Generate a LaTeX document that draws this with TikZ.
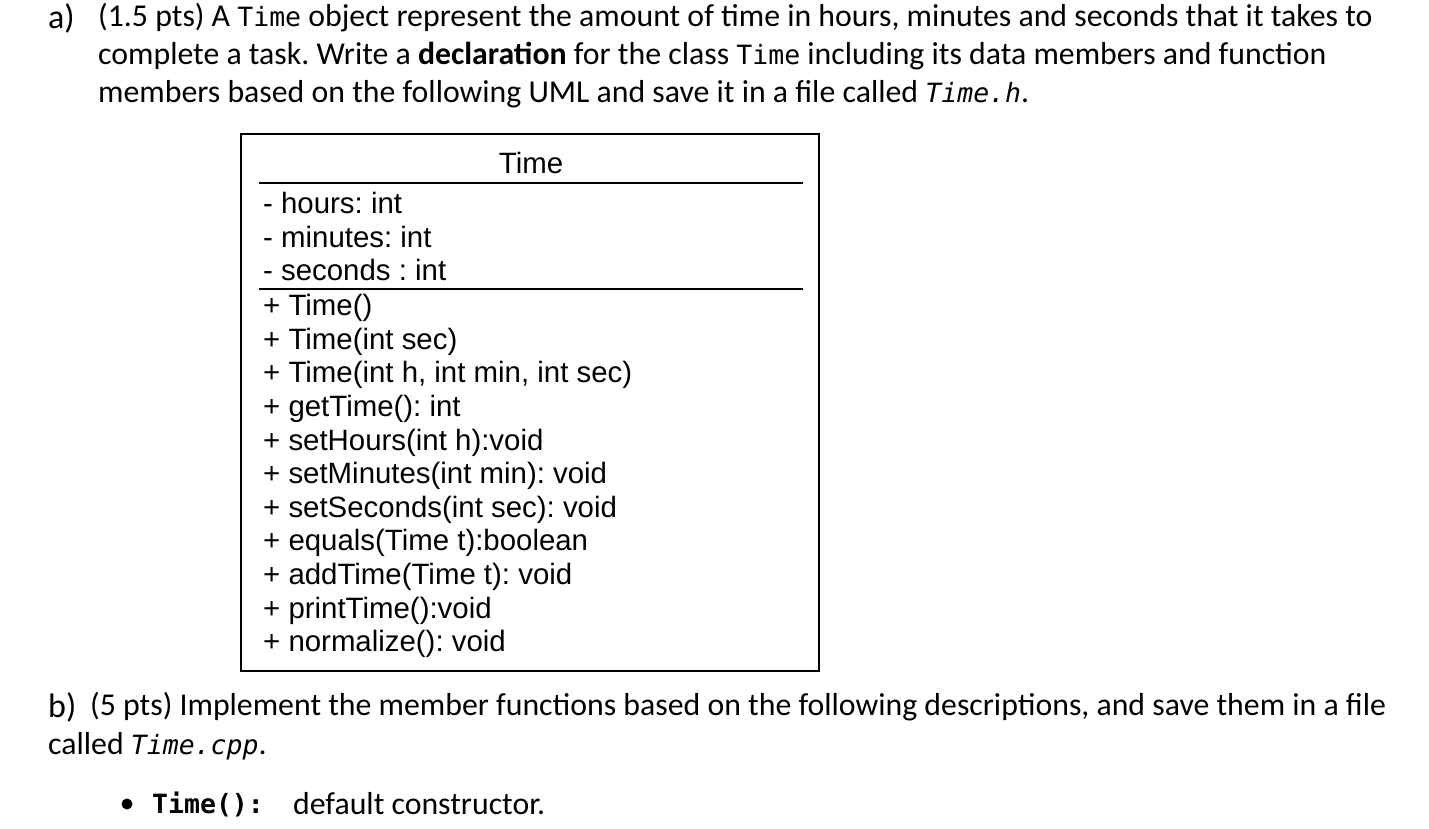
\documentclass[tikz,border=0pt]{standalone}
\usepackage{fontspec}
\setmainfont{Carlito}
\newfontfamily\umlfont{Liberation Sans}
\newfontfamily\codefont{DejaVu Sans Mono}
\frenchspacing
\begin{document}
\begin{tikzpicture}[x=1pt,y=-1pt,
  txt/.style={anchor=west,inner sep=0pt,font=\fontsize{31.8}{36}\selectfont},
  lbl/.style={anchor=west,inner sep=0pt,font=\fontsize{34}{38}\selectfont},
  uml/.style={anchor=west,inner sep=0pt,font=\umlfont\fontsize{29.4}{34}\selectfont},
  sep/.style={line width=2pt}]
\useasboundingbox (0,0) rectangle (1429,828);
\newcommand\cd[1]{{\codefont\fontsize{26.5}{30}\selectfont #1}}
\newcommand\cdi[1]{{\codefont\itshape\fontsize{26.5}{30}\selectfont #1}}
\node[lbl] (a) at (48,18) {a)};
\node[txt] (l1) at (98,18) {(1.5 pts) A \cd{Time} object represent the amount of time in hours, minutes and seconds that it takes to};
\node[txt] (l2) at (98,56) {complete a task. Write a \textbf{declaration} for the class \cd{Time} including its data members and function};
\node[txt] (l3) at (98,94) {members based on the following UML and save it in a file called \cdi{Time.h}.};
\draw[line width=2pt] (241,134) rectangle (819,671);
\node[uml,anchor=center] (title) at (531,163) {Time};
\draw[sep] (259,183) -- (803,183);
\draw[sep] (259,289) -- (803,289);
\foreach \t [count=\i] in {- hours: int,- minutes: int,- seconds : int}
  \node[uml] (at\i) at (263,{203+33.6*(\i-1)}) {\t};
\foreach \t [count=\i] in {+ Time(),+ Time(int sec),{+ Time(int h, int min, int sec)},+ getTime(): int,+ setHours(int h):void,+ setMinutes(int min): void,+ setSeconds(int sec): void,+ equals(Time t):boolean,+ addTime(Time t): void,+ printTime():void,+ normalize(): void}
  \node[uml] (m\i) at (263,{308+33.6*(\i-1)}) {\t};
\node[lbl] (b) at (48,707) {b)};
\node[txt] (b1) at (90,707) {(5 pts) Implement the member functions based on the following descriptions, and save them in a file};
\node[txt] (b2) at (48,746) {called \cdi{Time.cpp}.};
\fill (127,804) circle (5.5);
\node[txt] (b3) at (152,804) {{\codefont\bfseries\fontsize{26.5}{30}\selectfont Time():}};
\node[txt] (b4) at (293,804) {default constructor.};
\end{tikzpicture}
\end{document}
